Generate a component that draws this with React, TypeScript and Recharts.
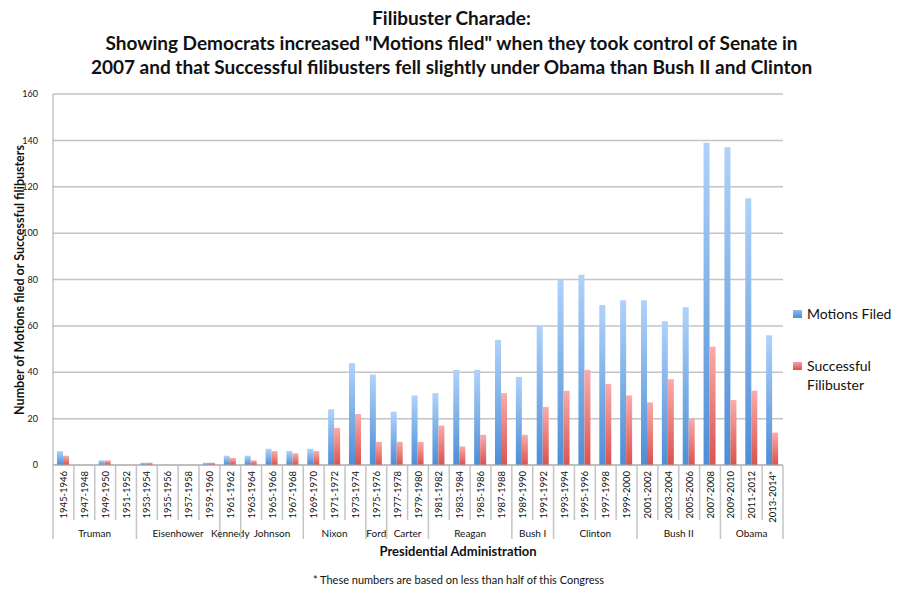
import React from "react";
import { BarChart, Bar, XAxis, YAxis, CartesianGrid, Label } from "recharts";

const periods = [
  "1945-1946", "1947-1948", "1949-1950", "1951-1952",
  "1953-1954", "1955-1956", "1957-1958", "1959-1960",
  "1961-1962", "1963-1964", "1965-1966", "1967-1968",
  "1969-1970", "1971-1972", "1973-1974", "1975-1976",
  "1977-1978", "1979-1980", "1981-1982", "1983-1984",
  "1985-1986", "1987-1988", "1989-1990", "1991-1992",
  "1993-1994", "1995-1996", "1997-1998", "1999-2000",
  "2001-2002", "2003-2004", "2005-2006", "2007-2008",
  "2009-2010", "2011-2012", "2013-2014*",
];

const presidents = [
  "Truman", "Truman", "Truman", "Truman",
  "Eisenhower", "Eisenhower", "Eisenhower", "Eisenhower",
  "Kennedy", "Johnson", "Johnson", "Johnson",
  "Nixon", "Nixon", "Nixon", "Ford",
  "Carter", "Carter", "Reagan", "Reagan",
  "Reagan", "Reagan", "Bush I", "Bush I",
  "Clinton", "Clinton", "Clinton", "Clinton",
  "Bush II", "Bush II", "Bush II", "Bush II",
  "Obama", "Obama", "Obama",
];

const motionsFiled = [
  6, 0, 2, 0, 1, 0, 0, 1, 4, 4, 7, 6, 7, 24, 44, 39, 23, 30,
  31, 41, 41, 54, 38, 60, 80, 82, 69, 71, 71, 62, 68, 139, 137, 115, 56,
];

const successfulFilibuster = [
  4, 0, 2, 0, 1, 0, 0, 1, 3, 2, 6, 5, 6, 16, 22, 10, 10, 10,
  17, 8, 13, 31, 13, 25, 32, 41, 35, 30, 27, 37, 20, 51, 28, 32, 14,
];

const yTicks = [0, 20, 40, 60, 80, 100, 120, 140, 160];

const data = periods.map((period, i) => ({
  period,
  president: presidents[i],
  motions: motionsFiled[i],
  successful: successfulFilibuster[i],
}));

const W = 903;
const H = 592;
const MARGIN = { top: 94, right: 120, bottom: 0, left: 0 };
const Y_AXIS_W = 53;
const X_AXIS_H = 127;
const PLOT_W = W - MARGIN.left - MARGIN.right - Y_AXIS_W;
const BAND = PLOT_W / periods.length;
const FONT = "Lato, 'Open Sans', sans-serif";
const LINE = "#c4c4c4";

function PeriodTick(props: any) {
  const { x, y, payload } = props;
  const i = payload.index;
  const left = x - BAND / 2;
  const groupStart = i === 0 || presidents[i] !== presidents[i - 1];
  const isLast = i === periods.length - 1;
  let count = 0;
  if (groupStart) {
    while (presidents[i + count] === presidents[i]) count++;
  }
  return (
    <g>
      <line x1={left} x2={left} y1={y} y2={groupStart ? y + 74 : y + 55} stroke={LINE} strokeWidth={1.5} />
      {isLast && (
        <line x1={x + BAND / 2} x2={x + BAND / 2} y1={y} y2={y + 74} stroke={LINE} strokeWidth={1.5} />
      )}
      <text
        x={x}
        y={y + 6}
        transform={`rotate(-90 ${x} ${y + 6})`}
        textAnchor="end"
        dominantBaseline="central"
        fontSize={9.5}
        fontFamily={FONT}
        fill="#111"
      >
        {payload.value}
      </text>
      {groupStart && (
        <text
          x={left + (count * BAND) / 2}
          y={y + 72}
          textAnchor="middle"
          fontSize={10}
          fontFamily={FONT}
          fill="#111"
        >
          {presidents[i]}
        </text>
      )}
    </g>
  );
}

function LegendBox() {
  return (
    <div
      style={{
        position: "absolute",
        left: 793,
        top: 304,
        width: 110,
        fontFamily: FONT,
        fontSize: 14,
        color: "#111",
        lineHeight: "19px",
      }}
    >
      <div style={{ display: "flex", alignItems: "flex-start", marginBottom: 33 }}>
        <span style={{ width: 9, height: 8, marginTop: 6, marginRight: 5, background: "linear-gradient(#8fbcef, #4a8ad3)" }} />
        <span>Motions Filed</span>
      </div>
      <div style={{ display: "flex", alignItems: "flex-start" }}>
        <span style={{ width: 9, height: 8, marginTop: 6, marginRight: 5, background: "linear-gradient(#f4a0a0, #d85450)" }} />
        <span>
          Successful
          <br />
          Filibuster
        </span>
      </div>
    </div>
  );
}

export default function App() {
  return (
    <div style={{ position: "absolute", left: 0, top: 0, width: W, height: H, background: "#fff", fontFamily: FONT }}>
      <div
        style={{
          position: "absolute",
          left: 0,
          top: 6,
          width: W,
          textAlign: "center",
          fontWeight: 700,
          fontSize: 19,
          lineHeight: "24.5px",
          color: "#111",
        }}
      >
        Filibuster Charade:
        <br />
        Showing Democrats increased "Motions filed" when they took control of Senate in
        <br />
        2007 and that Successful filibusters fell slightly under Obama than Bush II and Clinton
      </div>
      <BarChart width={W} height={H} data={data} margin={MARGIN} barSize={6} barGap={0}>
        <defs>
          <linearGradient id="blueBar" x1="0" y1="0" x2="0" y2="1">
            <stop offset="0%" stopColor="#b0d2fa" />
            <stop offset="100%" stopColor="#4d8ed6" />
          </linearGradient>
          <linearGradient id="redBar" x1="0" y1="0" x2="0" y2="1">
            <stop offset="0%" stopColor="#f9acab" />
            <stop offset="100%" stopColor="#d9534f" />
          </linearGradient>
        </defs>
        <CartesianGrid vertical={false} stroke={LINE} strokeWidth={1.5} />
        <XAxis
          dataKey="period"
          interval={0}
          height={X_AXIS_H}
          tickSize={0}
          tickMargin={0}
          tickLine={false}
          axisLine={{ stroke: "#aaa" }}
          tick={<PeriodTick />}
        >
          <Label
            content={() => (
              <text x={458} y={556} textAnchor="middle" fontSize={13} fontWeight={700} fontFamily={FONT} fill="#111">
                Presidential Administration
              </text>
            )}
          />
        </XAxis>
        <YAxis
          width={Y_AXIS_W}
          domain={[0, 160]}
          ticks={yTicks}
          tickLine={false}
          axisLine={{ stroke: "#aaa" }}
          tickMargin={9}
          tick={{ fontSize: 9, fill: "#111", fontFamily: FONT }}
        >
          <Label
            content={() => (
              <text
                x={19}
                y={280}
                transform="rotate(-90 19 280)"
                textAnchor="middle"
                dominantBaseline="central"
                fontSize={12.5}
                fontWeight={700}
                fontFamily={FONT}
                fill="#111"
              >
                Number of Motions filed or Successful filibusters
              </text>
            )}
          />
        </YAxis>
        <Bar dataKey="motions" name="Motions Filed" fill="url(#blueBar)" isAnimationActive={false} />
        <Bar dataKey="successful" name="Successful Filibuster" fill="url(#redBar)" isAnimationActive={false} />
      </BarChart>
      <LegendBox />
      <div
        style={{
          position: "absolute",
          left: 0,
          top: 573,
          width: W,
          textAlign: "center",
          fontSize: 11,
          color: "#111",
          paddingLeft: 14,
          boxSizing: "border-box",
        }}
      >
        * These numbers are based on less than half of this Congress
      </div>
    </div>
  );
}
